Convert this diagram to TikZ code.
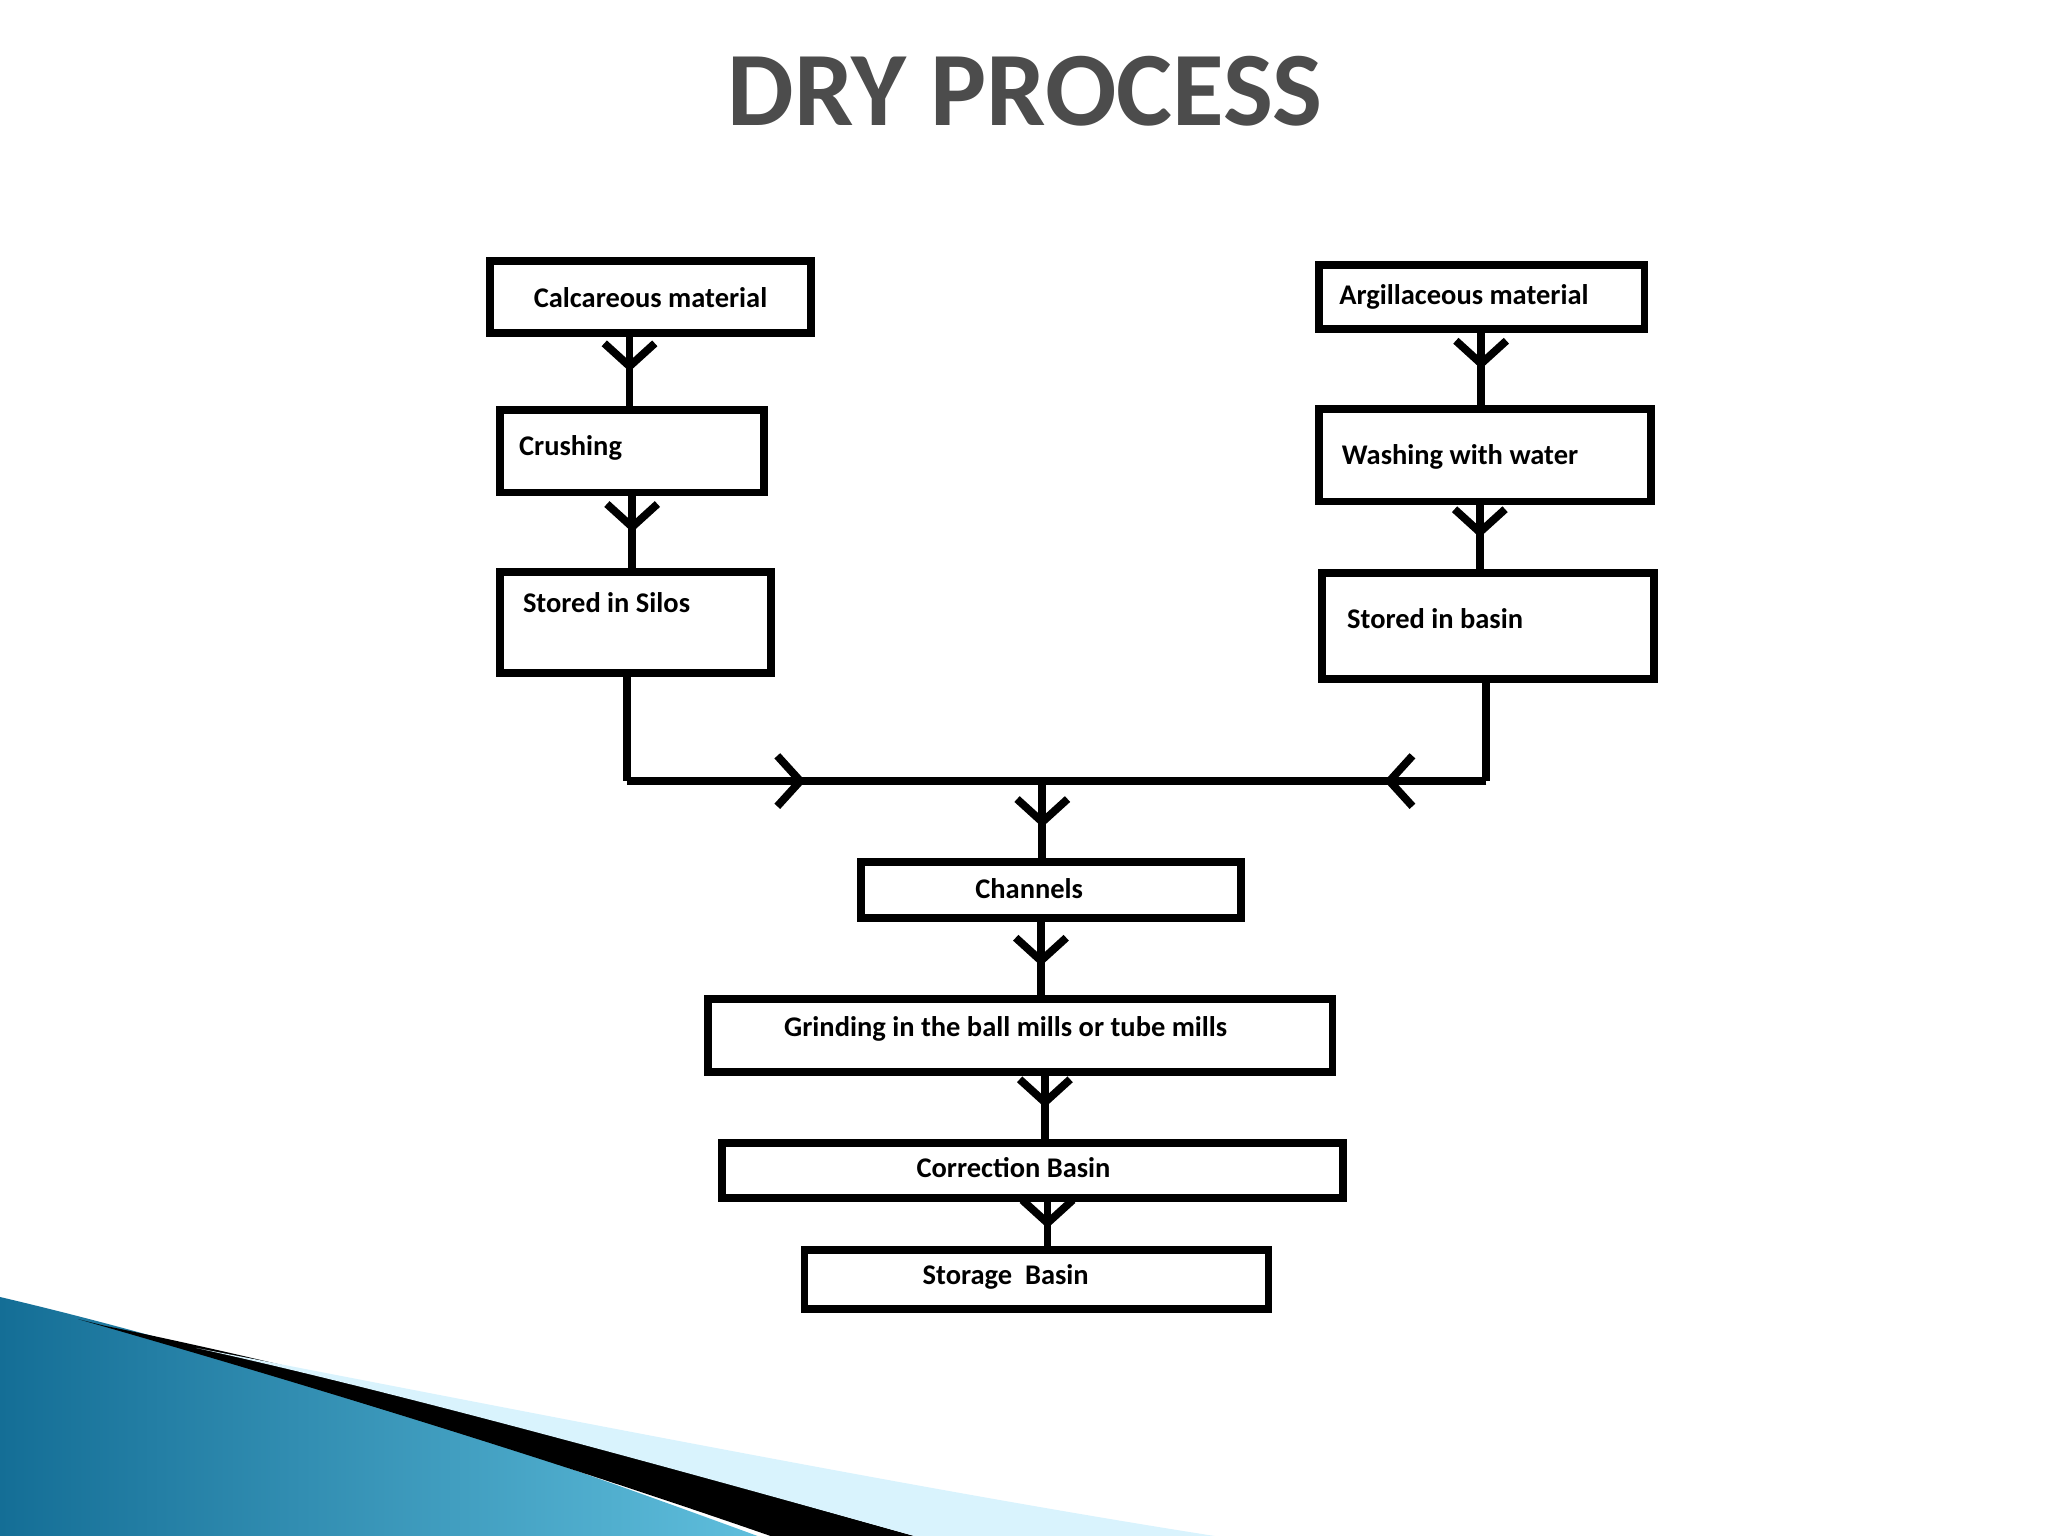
\documentclass[tikz,border=0pt]{standalone}
\usepackage{fontspec}
\setmainfont{Carlito}
\usetikzlibrary{arrows.meta,decorations.markings}
\definecolor{tealdark}{RGB}{20,110,150}
\definecolor{teallight}{RGB}{95,190,220}
\begin{document}
\begin{tikzpicture}[x=0.01cm,y=-0.01cm,
  box/.style={draw,line width=1.7pt,anchor=north west,inner sep=0pt},
  lbl/.style={font=\bfseries\fontsize{6.2}{7}\selectfont},
  flow/.style={line width=1.7pt,postaction={decorate},decoration={markings,mark=at position #1 with {\arrow{Straight Barb[length=5pt,width=11pt,line width=1.7pt]}}}},
  flow/.default=0.6]
\useasboundingbox (0,0) rectangle (1568,1176);
% background swoosh
\shade[left color=tealdark,right color=teallight] (0,993) .. controls (200,1040) and (400,1110) .. (580,1176) -- (0,1176) -- cycle;
\fill[black] (80,1015) .. controls (300,1060) and (500,1120) .. (700,1176) -- (590,1176) .. controls (400,1110) and (200,1050) .. (60,1010) -- cycle;
\fill[cyan!15!white] (150,1032) .. controls (400,1080) and (700,1140) .. (930,1176) -- (700,1176) .. controls (500,1120) and (300,1065) .. (150,1032) -- cycle;
% title
\node[text=black!70,font=\bfseries\fontsize{23}{26}\selectfont] (title) at (785,70) {DRY PROCESS};
% boxes
\node[box,minimum width=2.46cm,minimum height=0.55cm] (cal) at (372,197) {};
\node[lbl] at (cal.center) {Calcareous material};
\node[box,minimum width=2.02cm,minimum height=0.63cm] (cru) at (380,311) {};
\node[lbl,anchor=west] at (385,343) {Crushing};
\node[box,minimum width=2.07cm,minimum height=0.77cm] (sil) at (380,435) {};
\node[lbl,anchor=west] at (388,461) {Stored in Silos};
\node[box,minimum width=2.49cm,minimum height=0.49cm] (arg) at (1007,200) {};
\node[lbl,anchor=west] at (1013,227) {Argillaceous material};
\node[box,minimum width=2.54cm,minimum height=0.71cm] (was) at (1007,310) {};
\node[lbl,anchor=west] at (1015,350) {Washing with water};
\node[box,minimum width=2.54cm,minimum height=0.81cm] (bas) at (1009,436) {};
\node[lbl,anchor=west] at (1019,474) {Stored in basin};
\node[box,minimum width=2.91cm,minimum height=0.43cm] (cha) at (656,657) {};
\node[lbl] at (788,680) {Channels};
\node[box,minimum width=4.78cm,minimum height=0.56cm] (gri) at (539,762) {};
\node[lbl] at (770,788) {Grinding in the ball mills or tube mills};
\node[box,minimum width=4.75cm,minimum height=0.42cm] (cor) at (550,872) {};
\node[lbl] at (776,894) {Correction Basin};
\node[box,minimum width=3.55cm,minimum height=0.45cm] (sto) at (613,954) {};
\node[lbl] at (770,978) {Storage\ \ Basin};
% connectors
\coordinate (jl) at (480,598);
\coordinate (jr) at (1138,598);
\coordinate (jm) at (798,598);
\draw[flow=0.5] (cal.south -| 482,0) -- (cru.north -| 482,0);
\draw[flow=0.5] (cru.south -| 484,0) -- (sil.north -| 484,0);
\draw[flow=0.5] (arg.south -| 1134,0) -- (was.north -| 1134,0);
\draw[flow=0.5] (was.south -| 1133,0) -- (bas.north -| 1133,0);
\draw[line width=1.7pt] (sil.south -| 480,0) -- (jl);
\draw[line width=1.7pt] (bas.south -| 1138,0) -- (jr);
\draw[flow=0.43] (jl) -- (jm);
\draw[flow=0.23] (jr) -- (jm);
\draw[flow=0.6] (jm) -- (cha.north -| jm);
\draw[flow=0.6] (cha.south -| 797,0) -- (gri.north -| 797,0);
\draw[flow=0.5] (gri.south -| 800,0) -- (cor.north -| 800,0);
\draw[flow=0.6] (cor.south -| 802,0) -- (sto.north -| 802,0);
\end{tikzpicture}
\end{document}
